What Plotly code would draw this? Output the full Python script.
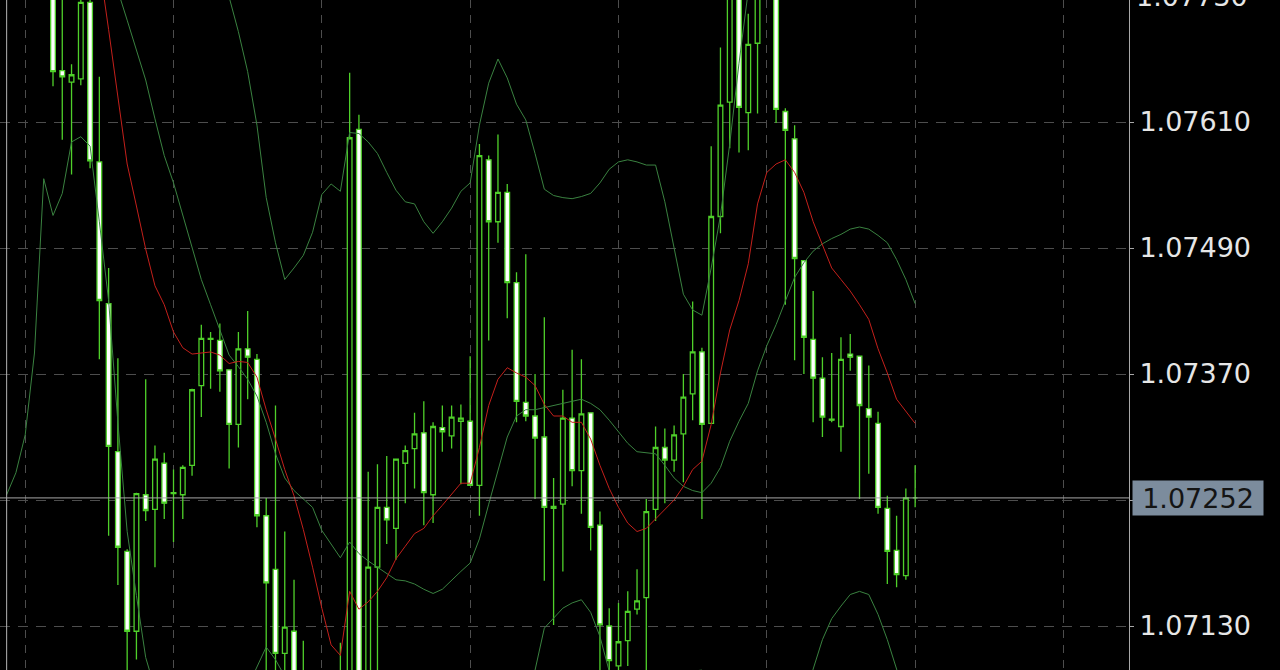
import plotly.graph_objects as go

# bar numbers, first five bars sit above the visible price range
bars = list(range(-5, 94))

opens = [1.07930, 1.07900, 1.07870, 1.07840, 1.07810,
         1.07790, 1.07659, 1.07648, 1.07651, 1.07724, 1.07572, 1.07437, 1.07296, 1.07201, 1.07125,
         1.07255, 1.07241, 1.07285, 1.07256, 1.07255, 1.07283, 1.07359, 1.07404, 1.07402, 1.07374,
         1.07322, 1.07394, 1.07384, 1.07235, 1.07184, 1.07104, 1.07125, 1.07060, 1.07070, 1.07040,
         1.07000, 1.07030, 1.07060, 1.07603, 1.07060, 1.07186, 1.07243, 1.07223, 1.07285, 1.07299,
         1.07314, 1.07255, 1.07319, 1.07311, 1.07325, 1.07325, 1.07264, 1.07574, 1.07515, 1.07543,
         1.07457, 1.07343, 1.07330, 1.07310, 1.07244, 1.07246, 1.07328, 1.07278, 1.07333, 1.07226,
         1.07130, 1.07092, 1.07116, 1.07146, 1.07157, 1.07241, 1.07300, 1.07288, 1.07313, 1.07351,
         1.07391, 1.07323, 1.07520, 1.07629, 1.07760, 1.07619, 1.07685, 1.07745, 1.07765, 1.07620,
         1.07594, 1.07478, 1.07403, 1.07366, 1.07327, 1.07320, 1.07389, 1.07387, 1.07337, 1.07323,
         1.07242, 1.07202, 1.07178, 1.07252]
highs = [1.07960, 1.07930, 1.07890, 1.07870, 1.07830,
         1.07800, 1.07745, 1.07665, 1.07735, 1.07730, 1.07653, 1.07471, 1.07385, 1.07203, 1.07257,
         1.07365, 1.07302, 1.07295, 1.07279, 1.07283, 1.07356, 1.07417, 1.07410, 1.07418, 1.07374,
         1.07410, 1.07430, 1.07389, 1.07252, 1.07340, 1.07220, 1.07174, 1.07116, 1.07085, 1.07070,
         1.07060, 1.07114, 1.07657, 1.07617, 1.07277, 1.07284, 1.07292, 1.07289, 1.07302, 1.07333,
         1.07344, 1.07324, 1.07340, 1.07340, 1.07341, 1.07387, 1.07589, 1.07578, 1.07598, 1.07551,
         1.07467, 1.07484, 1.07370, 1.07424, 1.07271, 1.07355, 1.07393, 1.07384, 1.07333, 1.07239,
         1.07147, 1.07152, 1.07163, 1.07184, 1.07251, 1.07320, 1.07318, 1.07321, 1.07370, 1.07439,
         1.07395, 1.07587, 1.07681, 1.07775, 1.07770, 1.07713, 1.07765, 1.07795, 1.07780, 1.07623,
         1.07607, 1.07478, 1.07449, 1.07386, 1.07390, 1.07405, 1.07408, 1.07387, 1.07378, 1.07334,
         1.07254, 1.07235, 1.07261, 1.07283]
lows = [1.07880, 1.07850, 1.07820, 1.07790, 1.07760,
        1.07644, 1.07593, 1.07560, 1.07645, 1.07566, 1.07384, 1.07216, 1.07169, 1.07070, 1.07098,
        1.07230, 1.07186, 1.07232, 1.07210, 1.07232, 1.07273, 1.07329, 1.07356, 1.07353, 1.07280,
        1.07300, 1.07346, 1.07224, 1.07060, 1.07050, 1.07040, 1.07030, 1.07010, 1.07020, 1.06980,
        1.06960, 1.07010, 1.07040, 1.07040, 1.07040, 1.07075, 1.07208, 1.07193, 1.07247, 1.07261,
        1.07226, 1.07228, 1.07296, 1.07299, 1.07265, 1.07264, 1.07235, 1.07402, 1.07495, 1.07423,
        1.07324, 1.07325, 1.07251, 1.07173, 1.07131, 1.07182, 1.07263, 1.07237, 1.07202, 1.07075,
        1.07070, 1.07075, 1.07092, 1.07141, 1.07075, 1.07230, 1.07247, 1.07277, 1.07267, 1.07326,
        1.07232, 1.07323, 1.07504, 1.07585, 1.07581, 1.07583, 1.07618, 1.07732, 1.07609, 1.07436,
        1.07383, 1.07370, 1.07324, 1.07310, 1.07324, 1.07296, 1.07373, 1.07251, 1.07275, 1.07237,
        1.07170, 1.07167, 1.07174, 1.07243]
closes = [1.07900, 1.07870, 1.07840, 1.07810, 1.07790,
          1.07658, 1.07653, 1.07655, 1.07724, 1.07573, 1.07440, 1.07301, 1.07205, 1.07125, 1.07256,
          1.07240, 1.07289, 1.07247, 1.07257, 1.07281, 1.07355, 1.07404, 1.07403, 1.07373, 1.07322,
          1.07394, 1.07386, 1.07235, 1.07171, 1.07104, 1.07129, 1.07060, 1.07075, 1.07040, 1.07000,
          1.07030, 1.07070, 1.07595, 1.07060, 1.07186, 1.07243, 1.07231, 1.07289, 1.07297, 1.07313,
          1.07257, 1.07320, 1.07315, 1.07329, 1.07328, 1.07264, 1.07578, 1.07515, 1.07543, 1.07457,
          1.07344, 1.07330, 1.07309, 1.07243, 1.07242, 1.07328, 1.07278, 1.07332, 1.07224, 1.07131,
          1.07097, 1.07115, 1.07144, 1.07154, 1.07239, 1.07300, 1.07288, 1.07312, 1.07348, 1.07391,
          1.07322, 1.07520, 1.07626, 1.07760, 1.07624, 1.07684, 1.07745, 1.07770, 1.07622, 1.07602,
          1.07480, 1.07405, 1.07366, 1.07329, 1.07326, 1.07384, 1.07386, 1.07340, 1.07329, 1.07243,
          1.07201, 1.07179, 1.07252, 1.07252]

# red moving average
ma_red = [1.07990, 1.07970, 1.07950, 1.07925, 1.07900,
          1.07875, 1.07850, 1.07825, 1.07800, 1.07780, 1.07760, 1.07698, 1.07633, 1.07570, 1.07530,
          1.07489, 1.07454, 1.07436, 1.07410, 1.07395, 1.07389, 1.07390, 1.07391, 1.07388, 1.07380,
          1.07382, 1.07381, 1.07367, 1.07336, 1.07308, 1.07279, 1.07254, 1.07222, 1.07186, 1.07147,
          1.07112, 1.07102, 1.07163, 1.07146, 1.07153, 1.07163, 1.07176, 1.07194, 1.07206, 1.07218,
          1.07223, 1.07235, 1.07245, 1.07255, 1.07266, 1.07266, 1.07300, 1.07340, 1.07365, 1.07376,
          1.07371, 1.07367, 1.07359, 1.07341, 1.07330, 1.07330, 1.07324, 1.07324, 1.07308, 1.07283,
          1.07261, 1.07243, 1.07228, 1.07220, 1.07223, 1.07232, 1.07241, 1.07250, 1.07263, 1.07279,
          1.07287, 1.07322, 1.07371, 1.07412, 1.07440, 1.07475, 1.07532, 1.07562, 1.07570, 1.07574,
          1.07562, 1.07543, 1.07515, 1.07493, 1.07471, 1.07460, 1.07449, 1.07436, 1.07422, 1.07394,
          1.07371, 1.07346, 1.07335, 1.07323]

# bollinger bands
bb_mid = [1.07885, 1.07883, 1.07880, 1.07876, 1.07870,
          1.07862, 1.07852, 1.07840, 1.07825, 1.07805, 1.07785, 1.07760, 1.07735, 1.07707, 1.07678,
          1.07650, 1.07613, 1.07578, 1.07552, 1.07521, 1.07491, 1.07460, 1.07436, 1.07412, 1.07388,
          1.07377, 1.07365, 1.07349, 1.07324, 1.07294, 1.07271, 1.07259, 1.07251, 1.07243, 1.07221,
          1.07208, 1.07195, 1.07210, 1.07199, 1.07192, 1.07186, 1.07180, 1.07174, 1.07173, 1.07170,
          1.07165, 1.07161, 1.07165, 1.07174, 1.07182, 1.07190, 1.07213, 1.07246, 1.07279, 1.07310,
          1.07330, 1.07336, 1.07336, 1.07338, 1.07340, 1.07342, 1.07344, 1.07346, 1.07342, 1.07336,
          1.07326, 1.07315, 1.07304, 1.07296, 1.07295, 1.07294, 1.07283, 1.07271, 1.07263, 1.07259,
          1.07257, 1.07266, 1.07281, 1.07306, 1.07325, 1.07342, 1.07373, 1.07397, 1.07417, 1.07440,
          1.07462, 1.07476, 1.07487, 1.07494, 1.07499, 1.07503, 1.07508, 1.07510, 1.07508, 1.07502,
          1.07495, 1.07479, 1.07460, 1.07437]
bb_up = [1.08515, 1.08489, 1.08448, 1.08362, 1.08184,
         1.08203, 1.08162, 1.08089, 1.08054, 1.08023, 1.08046, 1.08082, 1.08142, 1.08196, 1.08199,
         1.08211, 1.08166, 1.08116, 1.08074, 1.08022, 1.07967, 1.07905, 1.07847, 1.07789, 1.07729,
         1.07696, 1.07658, 1.07607, 1.07538, 1.07495, 1.07460, 1.07471, 1.07483, 1.07505, 1.07541,
         1.07551, 1.07544, 1.07600, 1.07599, 1.07591, 1.07580, 1.07562, 1.07545, 1.07534, 1.07532,
         1.07515, 1.07504, 1.07515, 1.07528, 1.07544, 1.07552, 1.07607, 1.07647, 1.07670, 1.07652,
         1.07627, 1.07612, 1.07580, 1.07546, 1.07540, 1.07538, 1.07537, 1.07539, 1.07542, 1.07552,
         1.07565, 1.07572, 1.07574, 1.07572, 1.07569, 1.07569, 1.07534, 1.07489, 1.07446, 1.07431,
         1.07426, 1.07471, 1.07521, 1.07589, 1.07666, 1.07735, 1.07796, 1.07834, 1.07859, 1.07880,
         1.07894, 1.07892, 1.07885, 1.07871, 1.07861, 1.07857, 1.07856, 1.07857, 1.07856, 1.07863,
         1.07873, 1.07869, 1.07860, 1.07844]
bb_low = [1.07255, 1.07276, 1.07312, 1.07390, 1.07556,
          1.07521, 1.07542, 1.07591, 1.07596, 1.07587, 1.07515, 1.07440, 1.07324, 1.07220, 1.07159,
          1.07100, 1.07070, 1.07045, 1.07030, 1.07020, 1.07015, 1.07015, 1.07025, 1.07035, 1.07047,
          1.07058, 1.07072, 1.07091, 1.07110, 1.07098, 1.07082, 1.07047, 1.07019, 1.06981, 1.06901,
          1.06865, 1.06846, 1.06820, 1.06799, 1.06793, 1.06792, 1.06798, 1.06803, 1.06812, 1.06808,
          1.06815, 1.06818, 1.06815, 1.06820, 1.06820, 1.06828, 1.06819, 1.06845, 1.06888, 1.06968,
          1.07033, 1.07060, 1.07088, 1.07128, 1.07138, 1.07147, 1.07152, 1.07155, 1.07143, 1.07120,
          1.07087, 1.07058, 1.07034, 1.07020, 1.07021, 1.07019, 1.07032, 1.07053, 1.07080, 1.07087,
          1.07088, 1.07061, 1.07041, 1.07023, 1.06984, 1.06949, 1.06950, 1.06960, 1.06975, 1.07000,
          1.07030, 1.07060, 1.07089, 1.07117, 1.07137, 1.07149, 1.07160, 1.07163, 1.07160, 1.07141,
          1.07117, 1.07089, 1.07060, 1.07030]

price_ticks = [1.07130, 1.07250, 1.07370, 1.07490, 1.07610]
time_grid = [-3, 13, 29, 45, 61, 77, 93, 109]
last_price = 1.07252
top_label = 1.07730

y_range = [1.070881, 1.077262]
x_range = [-5.717, 116.07]

candle_green = "#4fd02a"
band_green = "#3a8240"
label_font = "DejaVu Sans"

fig = go.Figure()
fig.add_trace(go.Candlestick(
    x=bars, open=opens, high=highs, low=lows, close=closes,
    increasing=dict(line=dict(color=candle_green, width=1.3), fillcolor="black"),
    decreasing=dict(line=dict(color=candle_green, width=1.3), fillcolor="white"),
    whiskerwidth=0,
    hoverinfo="skip",
))
for band in (bb_up, bb_mid, bb_low):
    fig.add_trace(go.Scatter(x=bars, y=band, mode="lines",
                             line=dict(color=band_green, width=1), hoverinfo="skip"))
fig.add_trace(go.Scatter(x=bars, y=ma_red, mode="lines",
                         line=dict(color="#c4201b", width=1), hoverinfo="skip"))

# first bar marker and current price line
fig.add_shape(type="line", xref="x", yref="paper", x0=bars[0], x1=bars[0], y0=0, y1=1,
              line=dict(color="#b4b4b4", width=1))
fig.add_shape(type="line", xref="paper", yref="y", x0=0, x1=1, y0=last_price, y1=last_price,
              line=dict(color="#a8a8a8", width=1))

fig.add_annotation(x=1, xref="paper", xanchor="left", xshift=3,
                   y=last_price, yref="y", yanchor="middle",
                   text=f"{last_price:.5f}", showarrow=False,
                   font=dict(family=label_font, size=27, color="#141414"),
                   bgcolor="#7c8c9d", width=130, height=34, borderpad=0)
# label of the grid line just above the top edge, cut by the window
top_y = (top_label - y_range[0]) / (y_range[1] - y_range[0])
fig.add_annotation(x=1, xref="paper", xanchor="left", xshift=5,
                   y=top_y, yref="paper", yanchor="middle",
                   text=f"{top_label:.5f}", showarrow=False,
                   font=dict(family=label_font, size=27, color="#e6e6e6"))

# the 1.07250 label sits under the price tag, so it is left blank
tick_text = ["" if abs(v - last_price) < 0.0001 else f"{v:.5f}" for v in price_ticks]

fig.update_xaxes(
    range=x_range,
    tickvals=time_grid,
    showticklabels=False,
    ticks="",
    showgrid=True, gridcolor="#4d4d4d", gridwidth=1, griddash="8px,7px",
    zeroline=False,
    rangeslider=dict(visible=False),
)
fig.update_yaxes(
    range=y_range,
    side="right",
    tickvals=price_ticks,
    ticktext=tick_text,
    tickfont=dict(family=label_font, size=27, color="#e6e6e6"),
    ticks="outside", ticklen=4, tickcolor="#a8a8a8",
    showline=True, linecolor="#a8a8a8", linewidth=1,
    showgrid=True, gridcolor="#4d4d4d", gridwidth=1, griddash="10px,8px",
    zeroline=False,
)
fig.update_layout(
    width=1280, height=670,
    margin=dict(l=0, r=151, t=0, b=0),
    paper_bgcolor="black", plot_bgcolor="black",
    showlegend=False,
    boxgap=0.28,
)

# page body has a default 8px margin; drop it so the chart fills the window
fig.write_html("out.html", config={"displayModeBar": False},
               post_script="document.body.style.margin = '0px';")
